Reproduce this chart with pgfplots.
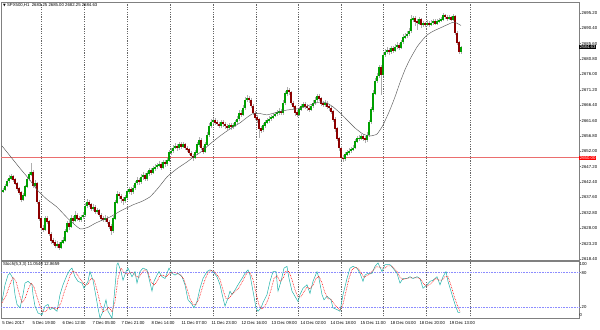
\documentclass[border=0pt]{standalone}
\usepackage{pgfplots}
\pgfplotsset{compat=1.18}
\usepackage{pgfplotstable}
\usepackage{fontspec}
\setmainfont{Liberation Sans}
\newfontfamily\symfont{DejaVu Sans}
\definecolor{upc}{RGB}{0,160,0}
\definecolor{dnc}{RGB}{140,0,0}
\definecolor{wick}{RGB}{175,175,175}
\definecolor{frm}{RGB}{128,128,128}
\definecolor{lvl}{RGB}{140,140,255}
\definecolor{stk}{RGB}{32,178,170}
\definecolor{levelred}{RGB}{235,110,110}
\newcommand{\tf}{\fontsize{4.3}{5}\selectfont}

\pgfplotstableread{
o h l c
2639.4 2640.6 2638.9 2640.0
2640.0 2641.8 2639.6 2641.2
2641.2 2643.3 2640.8 2642.8
2642.8 2644.5 2642.2 2643.6
2643.6 2645.0 2643.0 2644.1
2644.1 2644.6 2642.5 2643.2
2643.2 2643.8 2641.4 2642.0
2642.0 2642.5 2639.6 2640.4
2640.4 2641.0 2638.5 2639.1
2639.1 2639.6 2636.2 2637.0
2637.0 2638.9 2636.5 2638.2
2638.2 2641.6 2637.8 2641.0
2641.0 2644.0 2640.5 2643.4
2643.4 2645.6 2642.9 2644.8
2644.8 2648.4 2644.2 2645.6
2645.6 2646.2 2640.6 2641.2
2641.2 2643.1 2640.5 2642.0
2642.0 2642.5 2635.6 2636.2
2636.2 2636.8 2630.2 2631.0
2631.0 2631.6 2627.2 2628.1
2628.1 2629.0 2626.8 2627.6
2627.6 2631.8 2627.0 2631.0
2631.0 2631.9 2629.4 2630.1
2630.1 2630.6 2625.5 2626.2
2626.2 2626.8 2623.2 2624.1
2624.1 2625.0 2622.8 2623.6
2623.6 2624.2 2621.8 2622.6
2622.6 2624.0 2621.9 2623.1
2623.1 2623.6 2621.2 2622.0
2622.0 2624.4 2621.5 2623.6
2623.6 2625.2 2623.0 2624.2
2624.2 2627.8 2623.8 2627.0
2627.0 2630.3 2626.4 2629.5
2629.5 2630.2 2627.6 2628.6
2628.6 2632.0 2628.0 2631.0
2631.0 2631.8 2629.4 2630.2
2630.2 2633.4 2629.8 2632.0
2632.0 2632.6 2630.2 2631.1
2631.1 2631.8 2629.8 2630.6
2630.6 2632.2 2630.0 2631.5
2631.5 2633.0 2630.9 2632.1
2632.1 2635.9 2631.6 2635.0
2635.0 2637.2 2634.4 2636.1
2636.1 2636.8 2634.6 2635.4
2635.4 2636.0 2633.4 2634.1
2634.1 2635.5 2633.5 2634.6
2634.6 2635.2 2632.5 2633.1
2633.1 2634.4 2632.4 2633.6
2633.6 2634.1 2631.4 2632.1
2632.1 2632.8 2630.2 2631.0
2631.0 2631.7 2629.8 2630.6
2630.6 2632.0 2629.9 2631.2
2631.2 2631.8 2629.2 2630.0
2630.0 2630.5 2627.8 2628.6
2628.6 2629.2 2626.0 2627.1
2627.1 2631.8 2626.6 2631.0
2631.0 2636.9 2630.6 2636.0
2636.0 2639.5 2635.5 2638.6
2638.6 2639.4 2637.2 2638.0
2638.0 2638.6 2636.0 2637.1
2637.1 2637.8 2635.2 2636.6
2636.6 2638.4 2635.9 2637.6
2637.6 2640.3 2637.0 2639.5
2639.5 2641.0 2638.8 2640.1
2640.1 2640.8 2638.4 2639.4
2639.4 2641.4 2638.8 2640.6
2640.6 2642.9 2640.0 2642.1
2642.1 2644.0 2641.4 2643.1
2643.1 2643.8 2641.6 2642.4
2642.4 2644.8 2641.8 2644.0
2644.0 2645.6 2643.2 2644.6
2644.6 2645.2 2642.6 2643.5
2643.5 2645.9 2642.9 2645.1
2645.1 2646.9 2644.4 2646.0
2646.0 2646.8 2644.5 2645.4
2645.4 2647.4 2644.8 2646.6
2646.6 2648.0 2646.0 2647.1
2647.1 2648.5 2646.4 2647.6
2647.6 2649.0 2647.0 2648.1
2648.1 2648.8 2646.2 2647.0
2647.0 2649.4 2646.5 2648.6
2648.6 2649.3 2647.2 2648.0
2648.0 2649.9 2647.4 2649.1
2649.1 2652.4 2648.6 2651.6
2651.6 2653.0 2651.0 2652.1
2652.1 2654.0 2651.6 2653.1
2653.1 2654.5 2652.6 2653.6
2653.6 2654.3 2652.2 2653.0
2653.0 2654.9 2652.5 2654.1
2654.1 2654.8 2652.8 2653.5
2653.5 2655.0 2653.0 2654.1
2654.1 2654.6 2652.3 2653.0
2653.0 2653.6 2651.9 2652.6
2652.6 2653.1 2650.8 2651.5
2651.5 2652.0 2649.8 2650.6
2650.6 2651.2 2649.0 2650.0
2650.0 2652.4 2649.5 2651.6
2651.6 2655.0 2651.0 2654.1
2654.1 2656.4 2653.5 2655.6
2655.6 2656.2 2652.4 2653.1
2653.1 2653.7 2651.2 2652.0
2652.0 2654.9 2651.5 2654.1
2654.1 2657.9 2653.6 2657.1
2657.1 2660.9 2656.6 2660.0
2660.0 2662.1 2659.4 2661.1
2661.1 2662.5 2660.4 2661.6
2661.6 2662.3 2660.2 2661.0
2661.0 2661.8 2659.8 2660.6
2660.6 2661.2 2659.2 2660.0
2660.0 2661.9 2659.4 2661.1
2661.1 2661.8 2659.7 2660.5
2660.5 2661.1 2659.1 2660.0
2660.0 2660.7 2658.8 2659.5
2659.5 2660.9 2658.9 2660.1
2660.1 2660.8 2658.8 2659.6
2659.6 2661.0 2659.0 2660.1
2660.1 2661.9 2659.5 2661.1
2661.1 2663.0 2660.4 2662.1
2662.1 2664.9 2661.6 2664.0
2664.0 2665.0 2662.6 2663.5
2663.5 2666.4 2663.0 2665.6
2665.6 2669.0 2665.0 2668.1
2668.1 2669.6 2667.4 2668.6
2668.6 2669.3 2667.0 2668.0
2668.0 2668.6 2665.4 2666.1
2666.1 2666.8 2663.2 2664.0
2664.0 2664.6 2661.8 2662.6
2662.6 2663.3 2661.0 2662.0
2662.0 2662.5 2656.2 2659.1
2659.1 2659.9 2657.8 2658.6
2658.6 2660.9 2658.0 2660.1
2660.1 2661.8 2659.4 2661.0
2661.0 2662.5 2660.4 2661.6
2661.6 2663.0 2661.0 2662.1
2662.1 2663.4 2661.5 2662.6
2662.6 2664.0 2662.0 2663.1
2663.1 2664.4 2662.6 2663.6
2663.6 2665.0 2663.0 2664.1
2664.1 2665.4 2663.5 2664.6
2664.6 2665.3 2663.2 2664.0
2664.0 2667.9 2663.5 2667.1
2667.1 2670.9 2666.6 2670.0
2670.0 2672.0 2669.4 2671.1
2671.1 2671.8 2669.6 2670.5
2670.5 2671.0 2666.4 2667.1
2667.1 2667.8 2665.2 2666.0
2666.0 2666.6 2663.0 2664.1
2664.1 2664.8 2662.6 2663.5
2663.5 2665.9 2663.0 2665.1
2665.1 2666.9 2664.5 2666.0
2666.0 2667.5 2665.4 2666.6
2666.6 2667.3 2665.2 2666.0
2666.0 2666.7 2664.7 2665.5
2665.5 2666.2 2664.2 2665.0
2665.0 2666.9 2664.5 2666.1
2666.1 2668.0 2665.6 2667.1
2667.1 2669.0 2666.6 2668.1
2668.1 2670.0 2667.5 2669.1
2669.1 2669.9 2667.7 2668.5
2668.5 2669.0 2666.2 2667.0
2667.0 2667.8 2665.8 2666.6
2666.6 2668.0 2666.0 2667.1
2667.1 2667.7 2665.2 2666.0
2666.0 2666.8 2664.6 2665.6
2665.6 2666.2 2663.6 2664.5
2664.5 2665.0 2661.2 2662.0
2662.0 2662.6 2658.2 2659.1
2659.1 2659.7 2655.2 2656.0
2656.0 2656.6 2652.2 2653.1
2653.1 2653.7 2649.2 2650.0
2650.0 2650.8 2648.6 2649.6
2649.6 2651.9 2649.0 2651.1
2651.1 2652.5 2650.5 2651.6
2651.6 2653.0 2651.0 2652.1
2652.1 2653.4 2651.5 2652.6
2652.6 2654.0 2652.0 2653.1
2653.1 2655.9 2652.6 2655.1
2655.1 2656.9 2654.5 2656.0
2656.0 2657.0 2655.2 2656.1
2656.1 2657.5 2655.5 2656.6
2656.6 2657.3 2655.2 2656.0
2656.0 2656.7 2654.7 2655.5
2655.5 2657.9 2655.0 2657.1
2657.1 2661.9 2656.6 2661.1
2661.1 2665.9 2660.5 2665.0
2665.0 2671.0 2664.4 2670.1
2670.1 2674.9 2669.5 2674.0
2674.0 2676.6 2673.2 2675.6
2675.6 2679.0 2675.0 2678.1
2678.1 2678.9 2669.6 2676.0
2676.0 2683.0 2675.4 2682.1
2682.1 2684.0 2681.4 2683.0
2683.0 2684.5 2682.3 2683.6
2683.6 2684.3 2682.2 2683.0
2683.0 2685.0 2682.4 2684.1
2684.1 2684.8 2682.7 2683.5
2683.5 2685.5 2683.0 2684.6
2684.6 2686.0 2684.0 2685.1
2685.1 2685.8 2683.7 2684.5
2684.5 2686.9 2684.0 2686.1
2686.1 2688.5 2685.6 2687.6
2687.6 2688.9 2687.0 2688.0
2688.0 2689.5 2687.4 2688.6
2688.6 2690.5 2688.0 2689.6
2689.6 2694.5 2689.0 2693.1
2693.1 2694.4 2692.4 2693.6
2693.6 2694.2 2691.2 2692.5
2692.5 2693.2 2689.8 2692.0
2692.0 2693.9 2691.4 2693.1
2693.1 2693.6 2690.6 2691.5
2691.5 2692.6 2690.8 2691.9
2691.9 2692.4 2690.7 2691.5
2691.5 2692.9 2691.0 2692.1
2692.1 2692.7 2690.8 2691.5
2691.5 2692.9 2691.0 2692.1
2692.1 2693.4 2691.6 2692.6
2692.6 2693.2 2691.3 2692.0
2692.0 2693.4 2691.5 2692.6
2692.6 2693.6 2692.0 2692.9
2692.9 2693.9 2692.3 2693.1
2693.1 2695.1 2692.6 2694.5
2694.5 2695.0 2693.3 2694.0
2694.0 2694.6 2692.8 2693.5
2693.5 2694.6 2692.9 2693.9
2693.9 2694.4 2692.6 2693.2
2693.2 2694.8 2692.8 2694.1
2694.1 2694.5 2688.4 2689.0
2689.0 2689.6 2685.2 2686.0
2686.0 2686.5 2682.4 2683.25
2683.25 2685.0 2682.25 2684.63
}\candles

\begin{document}
\begin{tikzpicture}
\useasboundingbox (0,0) rectangle (600bp,330bp);
\begin{axis}[
  at={(1bp,70bp)}, anchor=south west, scale only axis,
  width=578bp, height=258bp,
  xmin=1, xmax=579, ymin=2618.08, ymax=2698.63,
  axis line style={draw=frm, line width=0.8bp},
  xtick={41,84,127,170,213,256,298,341,383,426,470},
  xticklabels={}, xmajorgrids,
  x tick style={draw=none},
  grid style={draw=black!60, dash pattern=on 1.2bp off 1.2bp, line width=0.4bp},
  ytick={2618.4,2623.2,2628.0,2632.8,2637.6,2642.4,2647.2,2652.0,2656.8,2661.6,2666.4,2671.2,2676.0,2680.8,2685.6,2690.4,2695.2},
  yticklabels={2618.40,2623.20,2628.00,2632.80,2637.60,2642.40,2647.20,2652.00,2656.80,2661.60,2666.40,2671.20,2676.00,2680.80,2685.60,2690.40,2695.20},
  ytick pos=right, yticklabel pos=right,
  tick align=outside, major tick length=2bp,
  y tick style={draw=frm, line width=0.5bp},
  yticklabel style={font=\tf, anchor=west, inner sep=0pt, xshift=0.5bp},
  clip=false,
]
% level line at 2650 (drawn as a thin filled band)
\fill[levelred] (axis cs:1,2649.83) rectangle (axis cs:579,2650.17);
% wicks
\addplot[draw=none, mark=none, forget plot,
  error bars/.cd, y dir=both, y explicit, error mark=none,
  error bar style={draw=wick, line width=0.6bp}]
  table[x expr=3+2*\coordindex, y expr=(\thisrow{h}+\thisrow{l})/2, y error expr=(\thisrow{h}-\thisrow{l})/2] {\candles};
% up bodies
\addplot[draw=none, mark=none, forget plot,
  restrict expr to domain={\thisrow{c}-\thisrow{o}}{0:1000},
  error bars/.cd, y dir=both, y explicit, error mark=none,
  error bar style={draw=upc, line width=1.05bp}]
  table[x expr=3+2*\coordindex, y expr=(\thisrow{o}+\thisrow{c})/2, y error expr=abs(\thisrow{c}-\thisrow{o})/2+0.08] {\candles};
% down bodies
\addplot[draw=none, mark=none, forget plot,
  restrict expr to domain={\thisrow{c}-\thisrow{o}}{-1000:-0.001},
  error bars/.cd, y dir=both, y explicit, error mark=none,
  error bar style={draw=dnc, line width=1.05bp}]
  table[x expr=3+2*\coordindex, y expr=(\thisrow{o}+\thisrow{c})/2, y error expr=abs(\thisrow{c}-\thisrow{o})/2+0.08] {\candles};
% moving average
\addplot[black!65, line width=0.45bp, smooth, tension=0.3] coordinates {
(2,2653.7)(10,2650.6)(20,2646.7)(30,2643.0)(37,2640.0)(47,2637.0)(57,2634.6)(68,2631.0)(80,2627.8)(88,2628.3)(95,2629.5)(102,2630.5)(110,2631.5)(120,2633.3)(133,2635.3)(142,2636.4)(150,2637.8)(158,2640.5)(167,2644.0)(177,2646.6)(187,2648.7)(195,2650.6)(200,2651.6)(210,2654.3)(220,2656.8)(230,2659.0)(240,2660.9)(247,2662.6)(253,2663.8)(260,2663.8)(267,2663.4)(277,2664.2)(287,2664.9)(300,2665.4)(310,2666.5)(318,2667.3)(323,2667.4)(328,2666.9)(333,2665.9)(340,2664.0)(347,2661.8)(355,2659.3)(363,2657.4)(370,2656.8)(377,2657.4)(383,2660.2)(390,2665.0)(395,2669.0)(400,2673.5)(405,2677.5)(410,2680.8)(417,2684.6)(422,2686.6)(427,2688.3)(433,2689.5)(440,2690.5)(447,2691.5)(453,2692.3)(457,2692.0)(461,2691.3)};
\node[fill=black, text=white, font=\tf, anchor=west, inner sep=0.7bp] at (axis cs:579,2684.63) {2684.63};
\node[fill=red, text=white, font=\tf, anchor=west, inner sep=0.7bp] at (axis cs:579,2650) {2650.00};
\end{axis}
\node[anchor=west, inner sep=0pt, font=\tf] at (3bp,324.3bp) {{\symfont\fontsize{3.5}{4}\selectfont ▼}\ SPX500,H1\ \ 2683.25 2685.00 2682.25 2684.63};
\begin{axis}[
  at={(1bp,11.2bp)}, anchor=south west, scale only axis,
  width=578bp, height=57.6bp,
  xmin=1, xmax=579, ymin=0, ymax=100,
  axis line style={draw=frm, line width=0.8bp},
  xtick={41,84,127,170,213,256,298,341,383,426,470},
  xticklabels={}, xmajorgrids,
  x tick style={draw=none},
  grid style={draw=black!60, dash pattern=on 1.2bp off 1.2bp, line width=0.4bp},
  extra x ticks={2,32,62,92,121,151,181,211,241,271,300,330,360,390,419,449},
  extra x tick labels={5 Dec 2017,5 Dec 19:00,6 Dec 12:00,7 Dec 05:00,7 Dec 21:00,8 Dec 14:00,11 Dec 07:00,11 Dec 23:00,12 Dec 16:00,13 Dec 09:00,14 Dec 02:00,14 Dec 18:00,15 Dec 11:00,18 Dec 04:00,18 Dec 20:00,19 Dec 13:00},
  extra x tick style={grid=none, tick style={draw=frm, line width=0.5bp},
     xticklabel style={font=\tf, anchor=north west, inner sep=0pt, xshift=0.3bp, yshift=-0.3bp}},
  ytick={20,80}, yticklabels={20,80},
  ytick pos=right, yticklabel pos=right,
  tick align=outside, major tick length=2bp,
  y tick style={draw=frm, line width=0.5bp},
  yticklabel style={font=\tf, anchor=west, inner sep=0pt, xshift=0.5bp},
  clip=false,
]
\addplot[lvl, line width=0.6bp, dash pattern=on 0.6bp off 1bp] coordinates {(1,80) (579,80)};
\addplot[lvl, line width=0.6bp, dash pattern=on 0.6bp off 1bp] coordinates {(1,20) (579,20)};
\addplot[stk, line width=0.5bp] coordinates {
(2,30)(5,59)(8,76)(10,79)(13,70)(15,42)(17,25)(20,19)(23,42)(25,62)(28,65)(32,59)(33,42)(35,22)(38,10)(42,7)(45,22)(48,25)(50,16)(53,19)(57,13)(60,42)(63,59)(67,76)(70,85)(72,88)(75,73)(78,65)(82,62)(84,53)(86,59)(88,65)(90,82)(93,67)(95,48)(98,19)(100,1)(103,13)(106,33)(108,13)(112,1)(114,36)(117,94)(118,97)(121,82)(123,67)(126,82)(128,88)(132,73)(135,82)(137,62)(140,82)(143,88)(147,85)(149,70)(152,48)(154,65)(157,76)(159,82)
(162,73)(165,70)(169,88)(172,79)(175,76)(178,79)(182,73)(185,59)(188,33)(192,25)(194,19)(197,30)(200,53)(203,70)(207,82)(210,85)(213,82)(217,73)(220,59)(223,36)(225,22)(228,36)(230,48)(232,42)(235,50)(238,59)(242,70)(245,79)(248,85)(250,76)(253,48)(256,19)(258,13)(261,19)(263,28)(267,42)(270,65)(273,82)(276,82)(278,48)(281,65)(284,88)(287,91)(289,70)(292,48)(294,42)(298,30)(300,42)(303,53)(307,59)(310,44)(313,65)
(317,82)(319,70)(322,42)(324,33)(327,39)(331,33)(333,19)(337,16)(340,13)(343,42)(347,70)(350,88)(353,91)(357,88)(360,79)(363,65)(365,76)(368,79)(372,79)(375,91)(378,97)(382,82)(385,94)(390,94)(393,88)(397,79)(400,62)(403,70)(407,70)(410,73)(413,70)(417,73)(420,70)(423,53)(427,59)(430,65)(433,67)(437,73)(440,59)(443,73)(446,82)(448,65)(452,42)(455,25)(458,11)(460,11.05)};
\addplot[red, line width=0.55bp, dash pattern=on 0.7bp off 0.9bp] coordinates {
(2,28)(6,40)(10,60)(13,72)(16,65)(19,45)(22,28)(25,35)(28,50)(31,62)(34,55)(37,38)(40,22)(43,12)(46,13)(49,20)(52,20)(55,17)(58,18)(61,28)(64,45)(67,60)(70,75)(73,83)(76,80)(79,72)(82,65)(85,58)(88,60)(91,70)(94,68)(97,50)(100,28)(103,12)(106,15)(109,20)(112,12)(115,30)(118,70)(121,88)(124,80)(127,78)(130,80)(133,80)(136,74)(139,72)(142,80)(145,85)(148,80)(151,65)(154,58)(157,65)(160,75)(163,76)(166,73)(169,78)(172,80)(175,80)(178,78)(181,76)(184,68)(187,52)(190,35)(193,25)(196,25)(199,35)(202,52)(205,68)(208,80)(211,84)(214,82)(217,77)(220,68)(223,50)(226,35)(229,35)(232,43)(235,47)(238,52)(241,60)(244,70)(247,80)(250,80)(253,68)(256,45)(259,24)(262,17)(265,22)(268,33)(271,50)(274,70)(277,75)(280,65)(283,70)(286,83)(289,82)(292,68)(295,50)(298,38)(301,38)(304,47)(307,55)(310,52)(313,58)(316,70)(319,74)(322,62)(325,45)(328,35)(331,34)(334,26)(337,20)(340,15)(343,25)(346,48)(349,70)(352,85)(355,89)(358,88)(361,80)(364,72)(367,75)(370,78)(373,84)(376,90)(379,90)(382,88)(385,88)(388,92)(391,92)(394,88)(397,82)(400,72)(403,68)(406,70)(409,71)(412,71)(415,71)(418,71)(421,68)(424,60)(427,57)(430,60)(433,65)(436,70)(439,67)(442,67)(445,73)(448,73)(451,58)(454,40)(457,25)(460,12.87)};
\node[font=\tf, anchor=west, inner sep=0pt] at (axis cs:579,94.8) {\hspace{0.5bp}100};
\node[font=\tf, anchor=west, inner sep=0pt] at (axis cs:579,6.6) {\hspace{0.5bp}0};
\node[font=\tf, anchor=west, inner sep=0pt] at (axis cs:3,94.5) {Stoch(5,3,3) 11.0540 12.8659};
\end{axis}
\end{tikzpicture}
\end{document}
